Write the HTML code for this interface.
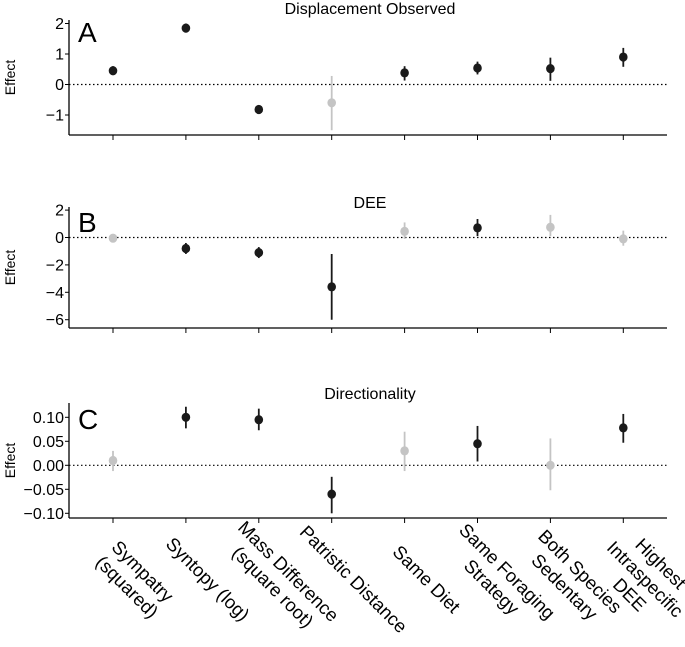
<!DOCTYPE html>
<html><head><meta charset="utf-8"><style>
body{margin:0;background:#fff}
svg{display:block;font-family:"Liberation Sans",Arial,sans-serif}
</style></head><body>
<svg id="chart" width="685" height="647" viewBox="0 0 685 647"></svg>
<script>
const categories=["Sympatry|(squared)","Syntopy (log)","Mass Difference|(square root)","Patristic Distance","Same Diet","Same Foraging|Strategy","Both Species|Sedentary","Highest|Intraspecific|DEE"];
const aEst=[0.45,1.85,-0.82,-0.6,0.38,0.54,0.52,0.9];
const aLo=[0.35,1.7,-0.9,-1.5,0.13,0.33,0.12,0.58];
const aHi=[0.6,2.0,-0.72,0.28,0.6,0.75,0.88,1.2];
const aSig=[1,1,1,0,1,1,1,1];
const bEst=[-0.05,-0.8,-1.1,-3.6,0.45,0.7,0.75,-0.1];
const bLo=[-0.3,-1.2,-1.5,-6.0,-0.1,0.1,0.1,-0.6];
const bHi=[0.2,-0.4,-0.7,-1.2,1.1,1.35,1.65,0.5];
const bSig=[0,1,1,1,0,1,0,0];
const cEst=[0.01,0.10,0.095,-0.06,0.03,0.045,0.0,0.078];
const cLo=[-0.012,0.077,0.073,-0.1,-0.012,0.008,-0.052,0.047];
const cHi=[0.03,0.122,0.118,-0.024,0.07,0.082,0.056,0.107];
const cSig=[0,1,1,1,0,1,0,1];
const aTicks=[2,1,0,-1];const aTickLabels=["2","1","0","\u22121"];
const bTicks=[2,0,-2,-4,-6];const bTickLabels=["2","0","\u22122","\u22124","\u22126"];
const cTicks=[0.10,0.05,0,-0.05,-0.10];const cTickLabels=["0.10","0.05","0.00","\u22120.05","\u22120.10"];

const svg=document.getElementById('chart');
const NS="http://www.w3.org/2000/svg";
function mk(t,a,txt){const e=document.createElementNS(NS,t);for(const k in a)e.setAttribute(k,a[k]);if(txt!=null)e.textContent=txt;svg.appendChild(e);return e;}
const X0=69,X1=667;
const xPos=i=>113+i*72.9;

function panel(p){
  const y=v=>p.y0-(v-p.v0)*p.scale;
  let e=mk('line',{x1:X0,y1:p.top,x2:X0,y2:p.bottom,stroke:'#000','stroke-width':1.3});
  
  e=mk('line',{x1:X0,y1:p.bottom,x2:X1,y2:p.bottom,stroke:'#000','stroke-width':1.3});
  
  p.ticks.forEach((t,i)=>{
    const yy=y(t);
    let l=mk('line',{x1:X0-4,y1:yy,x2:X0,y2:yy,stroke:'#000'});
    
    let tx=mk('text',{x:X0-5,y:yy+5.5,'text-anchor':'end','font-size':16},p.labels[i]);
    
  });
  categories.forEach((c,i)=>{
    let l=mk('line',{x1:xPos(i),y1:p.bottom,x2:xPos(i),y2:p.bottom+5,stroke:'#000'});
    
  });
  let z=mk('line',{x1:X0,y1:y(0),x2:X1,y2:y(0),stroke:'#000','stroke-dasharray':'1.5,2.5','stroke-width':1.2});
  
  let t=mk('text',{x:370,y:p.titleY,'text-anchor':'middle','font-size':16},p.title);
  
  t=mk('text',{x:78,y:p.letterY,'font-size':28},p.letter);
  
  t=mk('text',{x:0,y:0,'text-anchor':'middle','font-size':14,transform:`translate(15,${(p.top+p.bottom)/2}) rotate(-90)`},'Effect');
  
  p.est.forEach((v,i)=>{
    const col=p.sig[i]?'#1a1a1a':'#c4c4c4';
    let l=mk('line',{x1:xPos(i),y1:y(p.lo[i]),x2:xPos(i),y2:y(p.hi[i]),stroke:col,'stroke-width':1.8});
    
    let c=mk('ellipse',{cx:xPos(i),cy:y(v),rx:4.3,ry:4.6,fill:col});
    
  });
}
panel({key:'panel-a',title:'Displacement Observed',letter:'A',titleY:14,letterY:42,top:20,bottom:135,y0:84.5,v0:0,scale:30.5,ticks:aTicks,labels:aTickLabels,est:aEst,lo:aLo,hi:aHi,sig:aSig});
panel({key:'panel-b',title:'DEE',letter:'B',titleY:208,letterY:232,top:207,bottom:328,y0:237.5,v0:0,scale:13.7,ticks:bTicks,labels:bTickLabels,est:bEst,lo:bLo,hi:bHi,sig:bSig});
panel({key:'panel-c',title:'Directionality',letter:'C',titleY:399,letterY:429,top:403,bottom:518,y0:465.3,v0:0,scale:480,ticks:cTicks,labels:cTickLabels,est:cEst,lo:cLo,hi:cHi,sig:cSig});

categories.forEach((c,i)=>{
  const lines=c.split('|');const n=lines.length;
  const ax=xPos(i)+22,ay=579;
  const g=document.createElementNS(NS,'g');
  g.setAttribute('transform',`translate(${ax},${ay}) rotate(45)`);
  
  
  lines.forEach((ln,j)=>{
    const t=document.createElementNS(NS,'text');
    t.setAttribute('x',0);t.setAttribute('y',6.5+(j-(n-1)/2)*22);
    t.setAttribute('text-anchor','middle');
    t.setAttribute('font-size',18.5);t.textContent=ln;g.appendChild(t);
  });
  svg.appendChild(g);
});
</script>
</body></html>
